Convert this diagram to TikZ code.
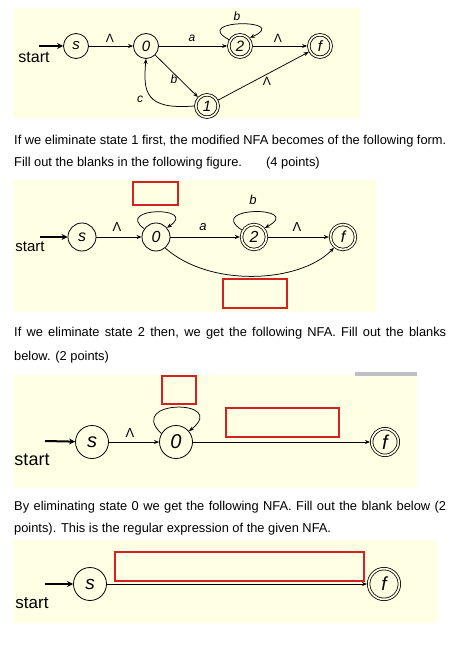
\documentclass[tikz,border=0pt]{standalone}
\usepackage{fontspec}
\setmainfont{Liberation Sans}
\usetikzlibrary{arrows.meta}
\definecolor{bgy}{RGB}{255,255,228}
\definecolor{boxred}{RGB}{212,34,34}
\definecolor{barg}{RGB}{190,190,198}
\begin{document}
\begin{tikzpicture}[x=1pt,y=-1pt,
 st/.style={circle,draw,line width=0.8pt,inner sep=0pt,minimum size=#1},
 acc/.style={circle,draw,line width=0.8pt,inner sep=0pt,minimum size=#1,double=bgy,double distance=1.7pt,outer sep=1.65pt},
 fs/.style={font=\fontsize{#1}{#1}\selectfont\itshape},
 lb/.style={inner sep=0pt,font=\fontsize{#1}{#1}\selectfont\itshape},
 arr/.style={-{Stealth[length=5pt,width=4pt]},line width=0.75pt},
 starr/.style={-{Stealth[length=6pt,width=6pt]},line width=2pt},
 rbox/.style={draw=boxred,line width=1.4pt,inner sep=0pt,rectangle},
 txt/.style={anchor=base west,inner sep=0pt,font=\fontsize{12.85}{15}\selectfont},
 stt/.style={inner sep=0pt,font=\fontsize{#1}{#1}\selectfont}
]
\fill[white] (0,0) rectangle (474,647);
\useasboundingbox (0,0) rectangle (474,647);

% ---------- panel 1 ----------
\fill[bgy] (13,8) rectangle (360,118);
\node[st=25,fs=15] (s1) at (76,46) {s};
\node[st=25,fs=15] (o1) at (146,46) {0};
\node[acc=22.4,fs=15] (t1) at (240,46) {2};
\node[acc=22.4,fs=15] (f1) at (320,46) {f};
\node[acc=22.4,fs=15] (q1) at (207,106) {1};
\coordinate (ss1) at (39,46);
\node[stt=16] (w1) at (34,57) {start};
\draw[starr] (ss1) -- (s1);
\draw[arr] (s1) -- (o1);
\draw[arr] (o1) -- (t1);
\draw[arr] (t1) -- (f1);
\draw[arr] (o1) -- (q1);
\draw[arr] (q1) -- (f1);
\draw[arr] (q1.west) .. controls (145,110) and (143,92) .. (o1.south);
\draw[arr] (t1.150) .. controls (190,19) and (292,19) .. (t1.40);
\node[lb=12] (la1) at (110,38) {\upshape Λ};
\node[lb=12] (la2) at (192,38) {a};
\node[lb=12] (la3) at (278,38) {\upshape Λ};
\node[lb=12] (la4) at (237,16) {b};
\node[lb=12] (la5) at (174,79) {b};
\node[lb=12] (la6) at (267,81) {\upshape Λ};
\node[lb=12] (la7) at (140,99) {c};

% ---------- text 1 ----------
\node[txt] (T1) at (14,145) {If we eliminate state 1 first, the modified NFA becomes of the following form.};
\node[txt] (T2) at (14,167) {Fill out the blanks in the following figure.};
\node[txt] (T2b) at (266,167) {(4 points)};

% ---------- panel 2 ----------
\fill[bgy] (13,180) rectangle (376,312);
\node[st=28,fs=16] (s2) at (82,237) {s};
\node[st=28,fs=16] (o2) at (156,237) {0};
\node[acc=25,fs=16] (t2) at (254,237) {2};
\node[acc=25,fs=16] (f2) at (343,237) {f};
\coordinate (ss2) at (40,237);
\node[stt=15] (w2) at (30,247) {start};
\draw[starr] (ss2) -- (s2);
\draw[arr] (s2) -- (o2);
\draw[arr] (o2) -- (t2);
\draw[arr] (t2) -- (f2);
\draw[arr] (o2.145) .. controls (114,207) and (199,206) .. (o2.40);
\draw[arr] (t2.150) .. controls (205,206) and (305,206) .. (t2.40);
\draw[arr] (o2.-50) .. controls (210,288) and (300,283) .. (f2.-130);
\node[lb=13] (lb1) at (117,227) {\upshape Λ};
\node[lb=13] (lb2) at (203,227) {a};
\node[lb=13] (lb3) at (253,200) {b};
\node[lb=13] (lb4) at (297,227) {\upshape Λ};
\node[rbox,minimum width=45,minimum height=23] (r1) at (155.5,193.5) {};
\node[rbox,minimum width=64,minimum height=29] (r2) at (255,293.5) {};

% ---------- text 2 ----------
\node[txt] (T3) at (14,336) {\makebox[432pt][s]{If we eliminate state 2 then, we get the following NFA. Fill out the blanks}};
\node[txt] (T4) at (14,360) {below. (2 points)};

% ---------- panel 3 ----------
\fill[bgy] (13,375) rectangle (417,488);
\fill[barg] (355,372) rectangle (417,376);
\node[st=33,fs=20] (s3) at (92,442) {s};
\node[st=33,fs=20] (o3) at (176,442) {0};
\node[acc=26.7,fs=20] (f3) at (385,442) {f};
\coordinate (ss3) at (45,441);
\node[stt=18] (w3) at (32,460) {start};
\draw[starr] (ss3) -- (s3);
\draw[arr] (s3) -- (o3);
\draw[arr] (o3) -- (f3);
\draw[arr] (o3.150) .. controls (125,399) and (230,399) .. (o3.40);
\node[lb=13] (lc1) at (130,433) {\upshape Λ};
\node[rbox,minimum width=34,minimum height=28] (r3) at (179,390) {};
\node[rbox,minimum width=113,minimum height=29] (r4) at (282.5,422.5) {};

% ---------- text 3 ----------
\node[txt] (T5) at (14,510) {\makebox[432pt][s]{By eliminating state 0 we get the following NFA. Fill out the blank below (2}};
\node[txt] (T6) at (14,532) {points). This is the regular expression of the given NFA.};

% ---------- panel 4 ----------
\fill[bgy] (13,540) rectangle (437,623);
\node[st=33,fs=19] (s4) at (90,584) {s};
\node[acc=30.7,fs=19] (f4) at (384,584) {f};
\coordinate (ss4) at (45,584);
\node[stt=17] (w4) at (32,603) {start};
\draw[starr] (ss4) -- (s4);
\draw[arr] (s4) -- (f4);
\node[rbox,minimum width=249,minimum height=29] (r5) at (239.5,566.5) {};
\end{tikzpicture}
\end{document}
